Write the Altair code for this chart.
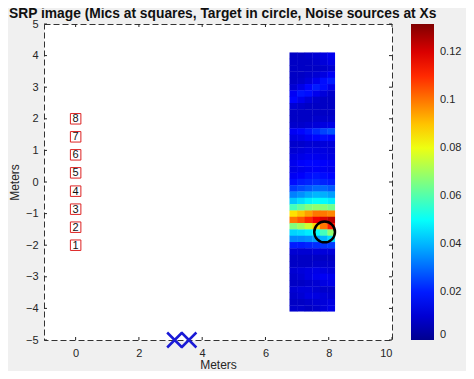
import altair as alt
import pandas as pd

# ---- data ----
title_text = "SRP image (Mics at squares, Target in circle, Noise sources at Xs"

# heat-map column edges (metres) and row centres (metres, top -> bottom)
col_edges = [6.76, 7.0, 7.24, 7.48, 7.72, 7.96, 8.2]
row_centers = [4.0, 3.8, 3.6, 3.4, 3.2, 3.0, 2.8, 2.6, 2.4, 2.2, 2.0, 1.8, 1.6, 1.4,
               1.2, 1.0, 0.8, 0.6, 0.4, 0.2, 0.0, -0.2, -0.4, -0.6, -0.8, -1.0, -1.2,
               -1.4, -1.6, -1.8, -2.0, -2.2, -2.4, -2.6, -2.8, -3.0, -3.2, -3.4, -3.6,
               -3.8, -4.0]
row_half = 0.1
srp_values = [
    [0.008, 0.008, 0.009, 0.010, 0.012, 0.014],
    [0.008, 0.008, 0.008, 0.009, 0.011, 0.013],
    [0.008, 0.008, 0.008, 0.008, 0.009, 0.010],
    [0.008, 0.008, 0.009, 0.010, 0.012, 0.015],
    [0.008, 0.009, 0.011, 0.014, 0.018, 0.020],
    [0.010, 0.013, 0.017, 0.020, 0.018, 0.014],
    [0.015, 0.019, 0.018, 0.014, 0.011, 0.009],
    [0.017, 0.014, 0.011, 0.009, 0.008, 0.008],
    [0.010, 0.009, 0.008, 0.008, 0.008, 0.008],
    [0.008, 0.008, 0.008, 0.008, 0.008, 0.008],
    [0.008, 0.008, 0.008, 0.009, 0.009, 0.009],
    [0.009, 0.009, 0.010, 0.011, 0.012, 0.013],
    [0.015, 0.017, 0.019, 0.022, 0.025, 0.027],
    [0.012, 0.013, 0.015, 0.017, 0.018, 0.017],
    [0.009, 0.009, 0.010, 0.010, 0.011, 0.011],
    [0.010, 0.011, 0.012, 0.012, 0.012, 0.011],
    [0.012, 0.013, 0.014, 0.014, 0.013, 0.012],
    [0.014, 0.016, 0.017, 0.017, 0.016, 0.015],
    [0.013, 0.014, 0.015, 0.016, 0.015, 0.014],
    [0.015, 0.016, 0.018, 0.019, 0.018, 0.017],
    [0.018, 0.020, 0.021, 0.022, 0.021, 0.020],
    [0.024, 0.026, 0.028, 0.030, 0.030, 0.028],
    [0.033, 0.035, 0.038, 0.040, 0.039, 0.037],
    [0.042, 0.045, 0.048, 0.050, 0.049, 0.047],
    [0.058, 0.062, 0.066, 0.068, 0.067, 0.064],
    [0.086, 0.090, 0.095, 0.100, 0.100, 0.098],
    [0.100, 0.104, 0.110, 0.117, 0.120, 0.124],
    [0.066, 0.070, 0.076, 0.088, 0.100, 0.112],
    [0.044, 0.045, 0.047, 0.050, 0.058, 0.068],
    [0.034, 0.034, 0.035, 0.037, 0.040, 0.045],
    [0.020, 0.020, 0.021, 0.022, 0.023, 0.024],
    [0.010, 0.010, 0.010, 0.011, 0.011, 0.011],
    [0.008, 0.008, 0.008, 0.008, 0.008, 0.008],
    [0.008, 0.008, 0.008, 0.009, 0.009, 0.009],
    [0.010, 0.011, 0.012, 0.013, 0.012, 0.011],
    [0.009, 0.010, 0.012, 0.014, 0.015, 0.014],
    [0.008, 0.008, 0.009, 0.010, 0.012, 0.013],
    [0.010, 0.011, 0.011, 0.010, 0.009, 0.009],
    [0.009, 0.010, 0.012, 0.012, 0.011, 0.010],
    [0.008, 0.008, 0.009, 0.010, 0.011, 0.012],
    [0.009, 0.009, 0.008, 0.009, 0.011, 0.013],
]

mic_x = [0, 0, 0, 0, 0, 0, 0, 0]
mic_y = [-2.0, -1.43, -0.86, -0.29, 0.29, 0.86, 1.43, 2.0]
mic_labels = ["1", "2", "3", "4", "5", "6", "7", "8"]

target_x = [7.87]
target_y = [-1.58]

noise_x = [3.13, 3.58]
noise_y = [-5.0, -5.0]

x_ticks = [0, 2, 4, 6, 8, 10]
y_ticks = [-5, -4, -3, -2, -1, 0, 1, 2, 3, 4, 5]
cbar_ticks = [0, 0.02, 0.04, 0.06, 0.08, 0.1, 0.12]
cbar_max = 0.1317

# ---- tables ----
# cells overlap their neighbours by a hair so no anti-aliasing seams show
seam = 0.012
cells = []
for r, yc in enumerate(row_centers):
    for c in range(len(col_edges) - 1):
        last_col = c == len(col_edges) - 2
        last_row = r == len(row_centers) - 1
        cells.append({"x0": col_edges[c],
                      "x1": col_edges[c + 1] + (0 if last_col else seam),
                      "y0": yc - row_half - (0 if last_row else seam),
                      "y1": yc + row_half,
                      "v": srp_values[r][c]})
cells = pd.DataFrame(cells)
mics = pd.DataFrame({"x": mic_x, "y": mic_y, "label": mic_labels})
target = pd.DataFrame({"x": target_x, "y": target_y})
noise = pd.DataFrame({"x": noise_x, "y": noise_y})
xt = pd.DataFrame({"t": x_ticks})
yt = pd.DataFrame({"t": y_ticks})
ttl = pd.DataFrame({"t": [title_text]})

W, H = 348, 316
FONT = "Liberation Sans"
TXT = "#262626"

xscale = alt.Scale(domain=[-1, 10], nice=False, zero=False)
yscale = alt.Scale(domain=[-5, 5], nice=False, zero=False)
xaxis = alt.Axis(values=x_ticks, grid=False, ticks=False, domain=False,
                 labelPadding=7, titlePadding=1, title="Meters")
yaxis = alt.Axis(values=y_ticks, grid=False, ticks=False, domain=False,
                 labelPadding=6, titlePadding=4, title="Meters")


def X(f):
    return alt.X(f, scale=xscale, axis=xaxis)


def Y(f):
    return alt.Y(f, scale=yscale, axis=yaxis)


jet_colors = ["#00008f", "#0000ff", "#00ffff", "#ffff00", "#ff0000", "#800000"]
jet_domain = [0, cbar_max * 0.125, cbar_max * 0.375, cbar_max * 0.625,
              cbar_max * 0.875, cbar_max]
jet = alt.Scale(domain=jet_domain, range=jet_colors, interpolate="rgb")

heat = alt.Chart(cells).mark_rect(strokeWidth=0).encode(
    x=X("x0:Q"), x2="x1:Q",
    y=Y("y0:Q"), y2="y1:Q",
    color=alt.Color("v:Q", scale=jet,
                    legend=alt.Legend(title=None, values=cbar_ticks, format="~g",
                                      type="gradient",
                                      orient="none", legendX=367, legendY=0,
                                      gradientLength=H, gradientThickness=23,
                                      gradientStrokeWidth=0,
                                      labelFont=FONT, labelFontSize=11,
                                      labelColor=TXT, labelOffset=6,
                                      labelOverlap=False, direction="vertical")),
)

squares = alt.Chart(mics).mark_point(shape="square", size=110, filled=False,
                                     stroke="#dd2222", strokeWidth=1, opacity=1).encode(
    x=X("x:Q"), y=Y("y:Q"))
labels = alt.Chart(mics).mark_text(font=FONT, fontSize=11, color="#111111",
                                   baseline="middle", align="center", dy=0.5).encode(
    x=X("x:Q"), y=Y("y:Q"), text="label:N")
circ = alt.Chart(target).mark_point(shape="circle", size=430, filled=False,
                                    stroke="#000000", strokeWidth=2.5, opacity=1).encode(
    x=X("x:Q"), y=Y("y:Q"))
xs = alt.Chart(noise).mark_point(shape="M-1,-1L1,1M-1,1L1,-1", size=225, filled=False,
                                 stroke="#1a1ad6", strokeWidth=2.5, opacity=1).encode(
    x=X("x:Q"), y=Y("y:Q"))

# inward tick marks (MATLAB style) on all four sides
tick_col = "#262626"
xb = alt.Chart(xt).mark_rule(color=tick_col, strokeWidth=1).encode(
    x=X("t:Q"), y=alt.value(H), y2=alt.value(H - 3))
xtop = alt.Chart(xt).mark_rule(color=tick_col, strokeWidth=1).encode(
    x=X("t:Q"), y=alt.value(0), y2=alt.value(3))
yl = alt.Chart(yt).mark_rule(color=tick_col, strokeWidth=1).encode(
    y=Y("t:Q"), x=alt.value(0), x2=alt.value(3))
yr = alt.Chart(yt).mark_rule(color=tick_col, strokeWidth=1).encode(
    y=Y("t:Q"), x=alt.value(W), x2=alt.value(W - 3))

title_mark = alt.Chart(ttl).mark_text(font=FONT, fontSize=13.8, fontWeight="bold",
                                      color="#111111", align="left",
                                      baseline="alphabetic").encode(
    x=alt.value(-35), y=alt.value(-6), text="t:N")

chart = alt.layer(heat, squares, labels, circ, xs, xb, xtop, yl, yr,
                  title_mark).properties(
    width=W, height=H,
    autosize=alt.AutoSizeParams(type="none"),
    padding={"left": 36, "top": 16, "right": 74, "bottom": 31},
).configure(background="#f0f0f0").configure_view(
    fill="white", stroke="#333333", strokeWidth=1, strokeDash=[6, 3]
).configure_axis(
    labelFont=FONT, labelFontSize=11, labelColor=TXT,
    titleFont=FONT, titleFontSize=12, titleColor=TXT, titleFontWeight="normal",
)

chart.save("out.html", embed_options={"renderer": "svg", "actions": False})
